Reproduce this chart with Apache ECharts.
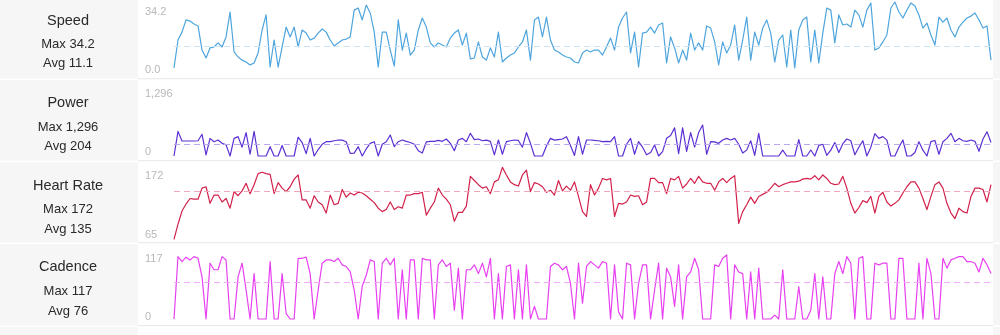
<!DOCTYPE html>
<html><head><meta charset="utf-8">
<script src="https://cdn.jsdelivr.net/npm/echarts@6/dist/echarts.min.js"></script>
<style>html,body{margin:0;padding:0;background:#fff}#c{width:1000px;height:335px}</style>
</head><body><div id="c"></div>
<script>
// ---------- DATA ----------
const speed = [0.0,14.5,18.6,24.9,24.3,22.8,21.8,9.3,5.2,10.4,
10.9,13.0,10.9,16.1,29.0,8.3,5.7,4.1,3.1,1.6,
2.6,7.8,19.7,27.5,0.5,14.5,0.5,10.9,21.2,16.1,
21.2,10.9,19.7,18.1,14.5,15.5,18.1,20.2,18.6,14.5,
11.4,13.0,14.5,15.0,16.1,30.0,31.1,24.9,32.6,28.5,
18.6,0.5,18.6,18.6,9.3,1.0,24.9,9.3,18.1,6.7,
9.3,19.7,25.9,21.2,13.0,10.9,13.0,11.9,10.9,15.5,
18.1,19.7,11.9,18.1,4.7,5.2,13.5,5.7,4.1,10.4,
5.7,18.6,3.1,5.2,6.7,7.8,10.9,13.5,19.7,4.1,
24.9,26.4,16.1,26.4,14.5,9.3,8.3,6.7,5.7,5.2,
3.1,2.6,7.8,9.3,8.3,9.3,9.3,6.7,10.9,15.5,
9.3,21.2,25.9,29.0,7.8,18.6,0.5,18.1,18.6,21.2,
18.1,22.3,23.3,2.6,16.1,10.4,2.6,9.3,4.1,18.1,
9.3,13.0,9.3,21.8,20.7,13.5,1.6,13.5,7.8,11.9,
22.3,4.1,14.5,26.4,4.1,18.6,11.9,20.7,24.9,18.1,
3.1,14.5,17.1,0.5,19.7,0.0,19.7,24.9,26.4,3.1,
19.7,2.6,18.1,31.1,30.0,13.0,27.5,22.3,22.8,21.2,
30.0,27.5,21.2,30.0,33.7,9.3,10.4,13.5,17.1,31.1,
34.2,29.0,25.9,30.0,33.7,32.1,27.5,20.7,23.3,17.1,
11.9,26.4,23.8,25.9,19.7,16.1,21.2,23.8,25.9,26.9,
28.5,24.9,20.7,21.8,4.1];

const power = [0,420,256,256,256,256,260,370,20,301,
244,273,216,190,0,300,330,150,400,30,
420,0,0,0,159,0,0,180,0,0,
0,320,230,40,301,0,110,200,244,244,
260,273,270,244,45,50,159,0,120,216,
244,0,200,244,358,159,244,273,250,230,
200,90,50,240,250,250,265,250,290,216,
90,273,301,244,386,280,290,260,270,250,
20,273,30,244,260,273,265,150,400,216,
0,0,0,170,301,270,280,290,330,180,
10,330,30,273,273,265,260,244,250,244,
330,0,0,200,300,30,244,150,20,60,
188,0,74,301,350,480,40,480,80,400,
150,400,528,30,244,240,216,273,301,273,
300,200,50,100,260,10,386,0,0,0,
0,0,100,0,0,0,280,0,0,102,
0,180,200,10,100,230,60,210,290,260,
20,150,260,0,150,380,301,330,270,0,
0,150,273,0,0,60,244,100,0,244,
265,30,244,301,386,244,301,260,250,273,
250,80,290,415,230];

const heartRate = [66,88,107,117,125,124,124,140,142,118,
130,130,120,125,111,135,129,136,147,132,
145,161,163,161,160,132,148,140,135,142,
153,159,123,123,111,129,120,116,104,130,
116,118,138,127,133,130,134,133,129,124,
119,111,106,109,120,109,113,111,130,130,
132,132,134,101,111,120,140,130,124,116,
92,105,105,114,157,151,145,140,142,132,
149,152,170,159,149,145,143,159,166,135,
148,146,142,134,137,130,151,136,143,137,
149,128,106,99,145,130,140,154,152,154,
99,118,117,120,130,128,129,116,120,154,
154,148,148,132,154,152,157,140,146,154,
147,157,149,147,147,137,149,154,148,154,
158,89,106,116,127,118,128,131,134,140,
147,142,145,147,149,149,150,153,154,153,
158,152,159,154,147,145,146,157,140,118,
104,112,122,119,128,104,128,134,120,114,
118,123,133,142,149,149,140,125,109,128,
145,149,140,118,104,96,111,106,104,128,
140,140,138,120,145];

const cadence = [0,114,105,113,108,114,111,77,0,102,
90,90,114,108,0,0,77,102,53,0,
83,0,0,0,105,0,0,83,10,0,
0,111,111,113,83,0,53,102,108,108,
105,111,99,96,86,53,0,60,80,108,
105,0,102,111,99,111,0,90,0,108,
108,0,111,108,108,0,99,108,96,102,
16,93,0,90,90,99,83,102,77,111,
0,83,0,96,99,0,90,0,99,0,
23,0,0,0,96,102,99,90,96,65,
0,102,29,96,105,99,93,105,102,0,
99,13,0,102,99,0,65,99,99,0,
53,102,0,93,77,23,99,0,77,86,
111,90,0,0,0,99,96,111,117,0,
99,86,83,0,86,0,93,0,0,0,
7,0,90,0,0,0,59,0,0,16,
83,0,77,0,0,83,105,83,114,102,
0,111,114,0,0,102,99,102,102,0,
0,111,111,0,0,0,102,0,111,83,
0,0,111,93,108,111,114,114,105,105,
102,86,111,99,83];

const metricNames = ['Speed', 'Power', 'Heart Rate', 'Cadence'];
const maxLabels = ['Max 34.2', 'Max 1,296', 'Max 172', 'Max 117'];
const avgLabels = ['Avg 11.1', 'Avg 204', 'Avg 135', 'Avg 76'];
const axisMin = [0, 0, 65, 0];
const axisMax = [34.2, 1296, 172, 117];
const avgLines = [11.1, 204, 135, 67];
const tickLabels = [['0.0', '34.2'], ['0', '1,296'], ['65', '172'], ['0', '117']];

// ---------- LAYOUT / STYLE ----------
const seriesData = [speed, power, heartRate, cadence];
const lineColors = ['#4ea5dd', '#5b30d2', '#d2214b', '#e740f1'];
const avgColors = ['#cde3f4', '#b9a8f0', '#f0a7b8', '#f5a8f8'];
const panelTop = [0, 80, 162, 244];
const panelBottom = [78.5, 160.5, 242.5, 325.5];
const plotTop = [2, 80, 166, 255];
const plotH = [66, 76, 74, 64];
const labelTopY = [12, 94, 176, 258.5];
const labelBotY = [70, 152, 235, 317];
const textY = [[21, 44.3, 63.3], [103.3, 127.3, 146], [185.7, 209.3, 229], [267.3, 291.7, 311]];
const FONT = '"Helvetica Neue", "Liberation Sans", Arial, sans-serif';
const LEFT = 174, RIGHT = 9;
const N = speed.length;

const grids = [], xAxes = [], yAxes = [], series = [];
for (let p = 0; p < 4; p++) {
  grids.push({ left: LEFT, right: RIGHT, top: plotTop[p], height: plotH[p] });
  xAxes.push({ type: 'value', gridIndex: p, min: 0, max: N - 1, show: false });
  yAxes.push({ type: 'value', gridIndex: p, min: axisMin[p], max: axisMax[p], show: false });
  series.push({
    type: 'line', xAxisIndex: p, yAxisIndex: p, clip: false,
    data: seriesData[p].map((v, i) => [i, v]),
    showSymbol: false, symbol: 'none', animation: false,
    lineStyle: { color: lineColors[p], width: 1.2, join: 'round' },
    markLine: {
      silent: true, symbol: 'none', animation: false,
      label: { show: false },
      lineStyle: { color: avgColors[p], type: [6, 4], width: 1 },
      data: [{ yAxis: avgLines[p] }]
    },
    z: 3
  });
}
// tick-label grids (min / max labels of each panel)
for (let p = 0; p < 4; p++) {
  const g = 4 + p;
  grids.push({ left: LEFT, right: RIGHT, top: labelTopY[p], height: labelBotY[p] - labelTopY[p] });
  xAxes.push({ type: 'value', gridIndex: g, min: 0, max: 1, show: false });
  yAxes.push({
    type: 'value', gridIndex: g, min: 0, max: 1, interval: 1,
    axisLine: { show: false }, axisTick: { show: false }, splitLine: { show: false },
    axisLabel: {
      show: true, align: 'left', margin: 29, color: '#b8b8b8', fontSize: 11, fontFamily: FONT,
      formatter: (v) => (v === 0 ? tickLabels[p][0] : tickLabels[p][1])
    }
  });
}

const graphics = [];
// left gray panels and right strip
const rowsTop = [0, 80, 162, 244, 327];
const rowsBot = [78.5, 160.5, 242.5, 325.5, 335];
for (let r = 0; r < 5; r++) {
  graphics.push({ type: 'rect', silent: true, z: -10,
    shape: { x: 0, y: rowsTop[r], width: 138, height: rowsBot[r] - rowsTop[r] },
    style: { fill: '#f6f6f6' } });
  graphics.push({ type: 'rect', silent: true, z: -10,
    shape: { x: 993, y: rowsTop[r], width: 7, height: rowsBot[r] - rowsTop[r] },
    style: { fill: '#f6f6f6' } });
}
for (let r = 0; r < 4; r++) {
  graphics.push({ type: 'rect', silent: true, z: -9,
    shape: { x: 138, y: panelBottom[r] - 0.5, width: 855, height: 1.2 },
    style: { fill: '#ececec' } });
}
for (let p = 0; p < 4; p++) {
  const texts = [metricNames[p], maxLabels[p], avgLabels[p]];
  for (let k = 0; k < 3; k++) {
    graphics.push({ type: 'text', silent: true, x: 68, y: textY[p][k],
      style: { text: texts[k], fill: '#2a2a2a', fontFamily: FONT,
        fontSize: k === 0 ? 14.5 : 13, align: 'center', verticalAlign: 'middle' } });
  }
}

const chart = echarts.init(document.getElementById('c'), null, { renderer: 'canvas' });
chart.setOption({
  animation: false,
  backgroundColor: '#ffffff',
  grid: grids, xAxis: xAxes, yAxis: yAxes, series: series,
  graphic: graphics
});
</script>
</body></html>
